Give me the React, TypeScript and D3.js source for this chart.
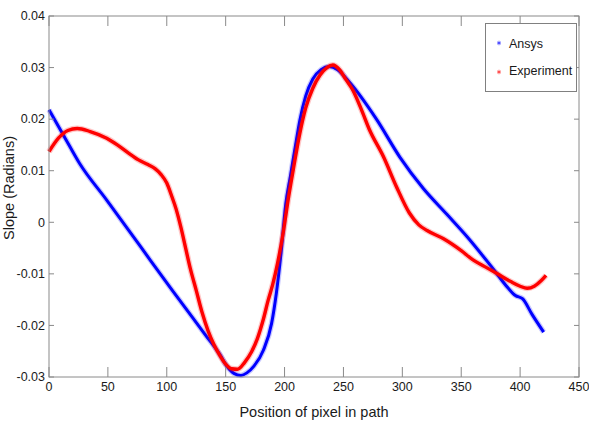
import React from 'react';
import * as d3 from 'd3';

// Ansys simulation: slope along the path
const ansysX = [0, 13, 26, 49, 77, 105, 134, 145, 151, 157, 163, 168, 174, 182, 189, 193, 197, 201, 205, 209, 213, 218, 224, 231, 238, 245, 255, 278, 298, 318, 338, 355, 377, 390, 396, 402, 410, 420];
const ansysY = [0.0218, 0.0166, 0.0114, 0.0043, -0.0045, -0.0133, -0.0222, -0.0256, -0.0279, -0.0293, -0.0297, -0.0292, -0.0279, -0.0248, -0.0196, -0.0138, -0.006, 0.0035, 0.009, 0.0145, 0.0198, 0.0245, 0.0278, 0.0296, 0.0302, 0.0296, 0.0272, 0.02, 0.0126, 0.0065, 0.0015, -0.0028, -0.009, -0.0128, -0.0142, -0.0148, -0.0178, -0.0213];

// Experiment measurements
const expX = [0, 8, 16, 24, 35, 49, 58, 67, 76, 84, 90, 95, 100, 104, 108, 112, 116, 120, 125, 130, 135, 140, 145, 150, 155, 160, 166, 172, 177, 182, 186, 190, 194, 199, 203, 208, 213, 218, 224, 230, 236, 241, 247, 252, 258, 265, 272, 284, 295, 306, 314, 321, 335, 350, 360, 370, 380, 392, 400, 406, 412, 418, 422];
const expY = [0.0137, 0.0163, 0.0178, 0.0182, 0.0176, 0.0163, 0.015, 0.0135, 0.0121, 0.0112, 0.0104, 0.0093, 0.0076, 0.0052, 0.0025, -0.001, -0.005, -0.009, -0.0132, -0.0175, -0.021, -0.0237, -0.0258, -0.0275, -0.0284, -0.0285, -0.0272, -0.0251, -0.0225, -0.0188, -0.0152, -0.012, -0.008, -0.0018, 0.0043, 0.011, 0.0173, 0.0222, 0.026, 0.0285, 0.03, 0.0305, 0.0295, 0.0277, 0.0256, 0.022, 0.018, 0.0127, 0.0069, 0.0018, -0.0005, -0.0016, -0.0032, -0.0055, -0.0073, -0.0086, -0.0099, -0.0115, -0.0124, -0.0128, -0.0124, -0.0113, -0.0103];

const xTicks = [0, 50, 100, 150, 200, 250, 300, 350, 400, 450];
const yTicks = [0.04, 0.03, 0.02, 0.01, 0, -0.01, -0.02, -0.03];
const yTickLabels = ['0.04', '0.03', '0.02', '0.01', '0', '-0.01', '-0.02', '-0.03'];

const seriesNames = ['Ansys', 'Experiment'];
const seriesColors = ['#0000ff', '#ff0000'];

const width = 589;
const height = 429;
const left = 49;
const right = 579;
const top = 16;
const bottom = 377;
const font = '"Liberation Sans", Arial, Helvetica, sans-serif';

const App: React.FC = () => {
  const x = d3.scaleLinear().domain([0, 450]).range([left, right]);
  const y = d3.scaleLinear().domain([-0.03, 0.04]).range([bottom, top]);

  const line = d3.line<[number, number]>()
    .x(d => x(d[0]))
    .y(d => y(d[1]))
    .curve(d3.curveMonotoneX);

  const series = [
    ansysX.map((v, i) => [v, ansysY[i]] as [number, number]),
    expX.map((v, i) => [v, expY[i]] as [number, number]),
  ];

  const star = d3.symbol().type(d3.symbolAsterisk).size(14)() || '';

  return (
    <svg width={width} height={height} style={{ position: 'absolute', left: 0, top: 0, background: '#fff' }}>
      <rect x={0} y={0} width={width} height={height} fill="#fff" />

      {/* curves, drawn with a soft halo to mimic dense star markers */}
      {series.map((pts, i) => (
        <g key={i}>
          <path d={line(pts) || ''} fill="none" stroke={seriesColors[i]} strokeOpacity={0.22} strokeWidth={i === 0 ? 5.5 : 6} />
          <path d={line(pts) || ''} fill="none" stroke={seriesColors[i]} strokeWidth={i === 0 ? 3 : 3.4} />
        </g>
      ))}

      {/* axes box */}
      <rect x={left} y={top} width={right - left} height={bottom - top} fill="none" stroke="#8a8a8a" strokeWidth={1} />

      {xTicks.map(t => (
        <g key={'x' + t}>
          <line x1={x(t)} x2={x(t)} y1={bottom} y2={bottom - 10} stroke="#8a8a8a" />
          <line x1={x(t)} x2={x(t)} y1={top} y2={top + 10} stroke="#8a8a8a" />
          <text x={x(t)} y={390.5} textAnchor="middle" fontSize={12.5} fontFamily={font} fill="#1a1a1a">{t}</text>
        </g>
      ))}

      {yTicks.map((t, i) => (
        <g key={'y' + t}>
          <line x1={left} x2={left + 5} y1={y(t)} y2={y(t)} stroke="#8a8a8a" />
          <line x1={right} x2={right - 5} y1={y(t)} y2={y(t)} stroke="#8a8a8a" />
          <text x={45} y={y(t) + 4.3} textAnchor="end" fontSize={12.5} fontFamily={font} fill="#1a1a1a">{yTickLabels[i]}</text>
        </g>
      ))}

      <text x={314} y={416.5} textAnchor="middle" fontSize={14.5} fontFamily={font} fill="#1a1a1a">Position of pixel in path</text>
      <text transform={`translate(14,${188}) rotate(-90)`} textAnchor="middle" fontSize={14.5} fontFamily={font} fill="#1a1a1a">Slope (Radians)</text>

      {/* legend */}
      <rect x={485.5} y={23.5} width={91} height={68} fill="#fff" stroke="#808080" />
      {seriesNames.map((name, i) => (
        <g key={name}>
          <path d={star} transform={`translate(499,${43 + i * 29})`} fill="none" stroke={seriesColors[i]} strokeOpacity={0.6} strokeWidth={1} />
          <text x={509} y={48 + i * 27} fontSize={12.5} fontFamily={font} fill="#1a1a1a">{name}</text>
        </g>
      ))}
    </svg>
  );
};

export default App;
